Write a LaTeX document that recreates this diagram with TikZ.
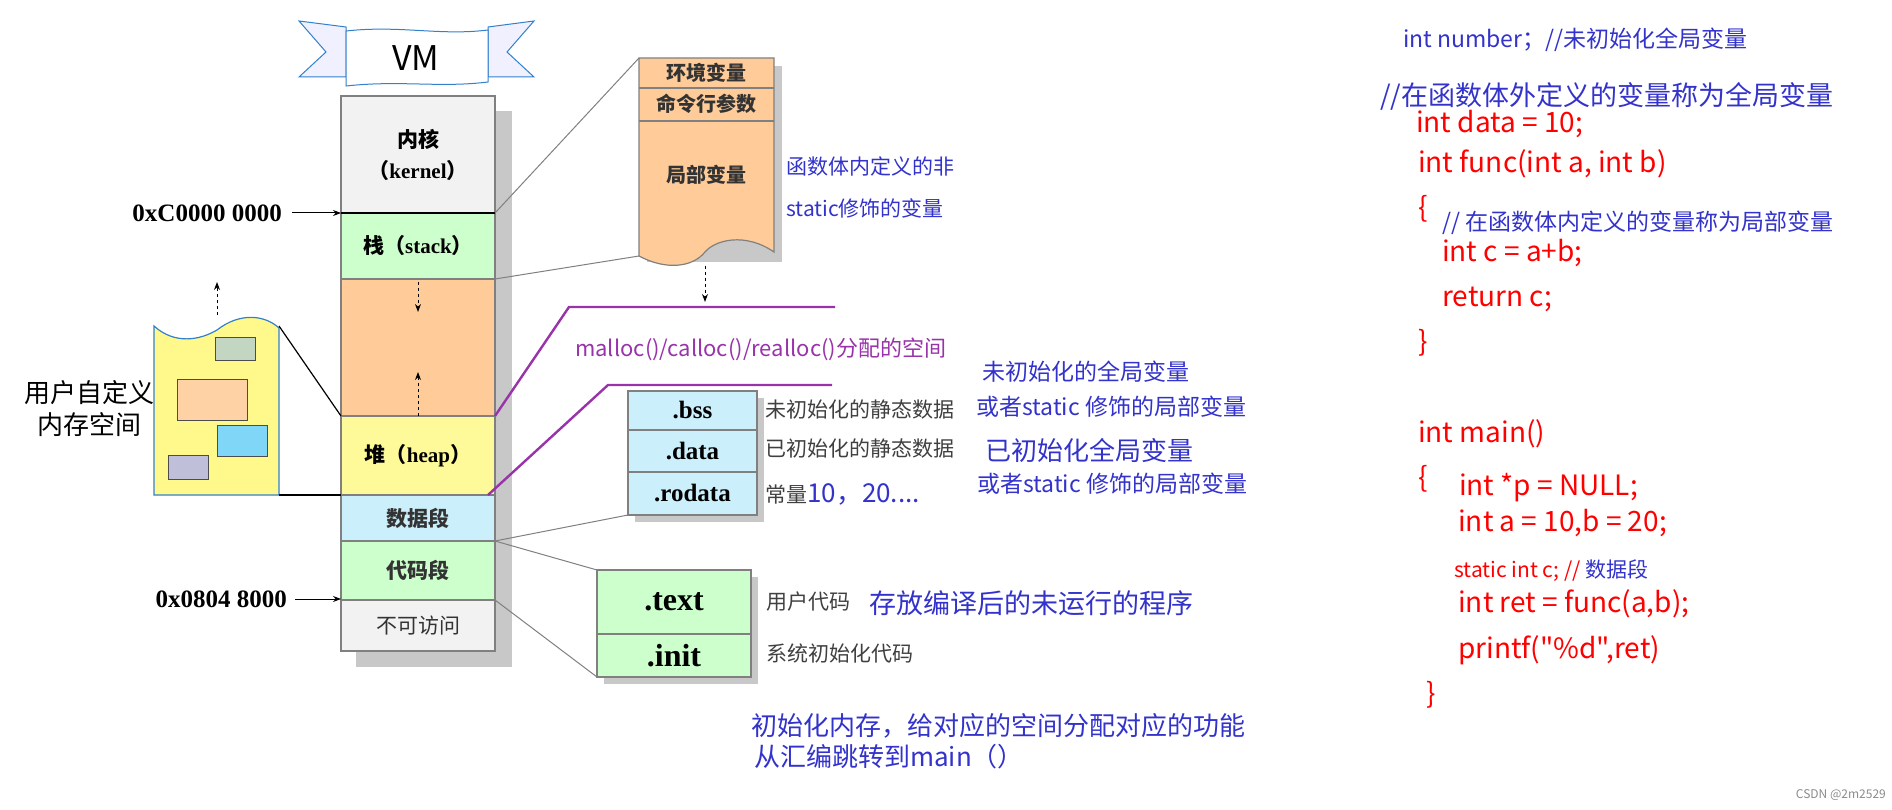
\documentclass[tikz,border=0pt]{standalone}
\usepackage{fontspec}
\setmainfont{Liberation Serif}
\newfontfamily\cjk{Noto Sans CJK SC}
\usetikzlibrary{arrows.meta}
\definecolor{tblue}{HTML}{3333CC}
\definecolor{tred}{HTML}{FF0000}
\definecolor{tpurple}{HTML}{9933AA}
\definecolor{bord}{HTML}{808080}
\definecolor{shad}{HTML}{C8C8C8}
\tikzset{
 seg/.style={draw=bord,line width=1.2pt},
 lbl/.style={inner sep=0,anchor=west},
 cen/.style={inner sep=0},
 conn/.style={draw=bord,line width=1pt},
 dash arrow/.style={dashed,line width=1pt,-{Stealth[length=8pt]}},
 pline/.style={draw=tpurple,line width=2.4pt},
}
\newcommand{\fz}[1]{\fontsize{#1}{#1}\selectfont}
\begin{document}
\begin{tikzpicture}[x=1pt,y=-1pt]
\useasboundingbox (0,0) rectangle (1892,810);
\fill[white] (0,0) rectangle (1892,810);
% banner
\path[draw=blue!50!cyan!60!gray,fill=blue!6,line width=1pt] (299,21) -- (346,27) -- (346,77) -- (299,77) -- (326,52) -- cycle;
\path[draw=blue!50!cyan!60!gray,fill=blue!6,line width=1pt] (534,21) -- (488,27) -- (488,77) -- (534,77) -- (507,52) -- cycle;
\path[draw=blue!50!cyan!60!gray,fill=white,line width=1pt] (346,31) .. controls (400,25) and (440,36) .. (488,30) -- (488,82) .. controls (440,88) and (400,80) .. (346,86) -- cycle;
\node[cen,font=\cjk\fz{34}] (vm) at (416,58) {VM};
% column shadow
\fill[shad] (356,111) rectangle (512,667);
\path[seg,fill=black!5] (341,96) rectangle (495,213) node[midway,cen,align=center,font=\bfseries\fz{21}] (kern) {{\cjk 内核}\\[10pt]{\cjk（}kernel{\cjk ）}};
\path[seg,fill=green!20] (341,213) rectangle (495,279) node[midway,cen,font=\bfseries\fz{21}] (stk) {{\cjk 栈（}stack{\cjk ）}};
\path[seg,fill=orange!40] (341,279) rectangle (495,416) coordinate[pos=.5] (mid);
\path[seg,fill=yellow!40] (341,416) rectangle (495,495) node[midway,cen,font=\bfseries\fz{21}] (heap) {{\cjk 堆（}heap{\cjk ）}};
\path[seg,fill=cyan!20] (341,495) rectangle (495,541) node[midway,cen,font=\cjk\bfseries\fz{21},text=black!80] (ds) {数据段};
\path[seg,fill=green!20] (341,541) rectangle (495,600) node[midway,cen,font=\cjk\bfseries\fz{21},text=black!80] (cs) {代码段};
\path[seg,fill=black!5] (341,600) rectangle (495,651) node[midway,cen,font=\cjk\fz{21},text=black!80] (na) {不可访问};
\draw[line width=1.6pt] (341,213) -- (495,213);
\coordinate (d1s) at (418,282); \coordinate (d1e) at (418,312);
\coordinate (d2s) at (418,416); \coordinate (d2e) at (418,372);
\draw[dash arrow] (d1s) -- (d1e);
\draw[dash arrow] (d2s) -- (d2e);
% addresses
\node[lbl,anchor=east,font=\bfseries\fz{25}] (a1) at (282,213) {0xC0000 0000};
\node[lbl,anchor=east,font=\bfseries\fz{25}] (a2) at (287,599) {0x0804 8000};
\coordinate (a1e) at (341,213); \coordinate (a2e) at (341,599);
\draw[line width=1pt,-{Stealth[length=8pt]}] (a1.east)++(10,0) -- (a1e);
\draw[line width=1pt,-{Stealth[length=8pt]}] (a2.east)++(8,0) -- (a2e);
% user block
\path[draw=blue!50!cyan!60!gray,fill=yellow!45,line width=1.2pt] (154,495) -- (154,326) .. controls (175,345) and (200,340) .. (217,330) .. controls (240,312) and (265,315) .. (279,328) -- (279,495) -- cycle;
\draw[fill=green!20!gray!40,draw=black!70] (215,337) rectangle (255,360);
\draw[fill=orange!35,draw=black!70] (177,379) rectangle (247,420);
\draw[fill=cyan!50,draw=black!70] (217,425) rectangle (267,456);
\draw[fill=blue!25!gray!40,draw=black!70] (168,455) rectangle (208,479);
\coordinate (u1) at (217,315); \coordinate (u2) at (217,282);
\draw[dash arrow] (u1) -- (u2);
\coordinate (ub1) at (279,326); \coordinate (cb1) at (341,416);
\coordinate (ub2) at (279,495); \coordinate (cb2) at (341,495);
\draw[line width=1.2pt] (ub1) -- (cb1);
\draw[line width=1.2pt] (ub2) -- (cb2);
\node[cen,font=\cjk\fz{26},align=center] (ul) at (89,409) {用户自定义\\[6pt]内存空间};
% env box
\fill[shad] (647,66) -- (782,66) -- (782,262) -- (647,262) -- cycle;
\path[seg,fill=orange!40] (639,58) -- (774,58) -- (774,252) .. controls (745,232) and (715,240) .. (705,252) .. controls (692,268) and (665,270) .. (639,256) -- cycle;
\draw[seg] (639,88) -- (774,88);
\draw[seg] (639,121) -- (774,121);
\node[cen,font=\cjk\bfseries\fz{20},text=black!80] (env) at (706,73) {环境变量};
\node[cen,font=\cjk\bfseries\fz{20},text=black!80] (cmd) at (706,104) {命令行参数};
\node[cen,font=\cjk\bfseries\fz{20},text=black!80] (loc) at (706,175) {局部变量};
\coordinate (e1) at (705,266); \coordinate (e2) at (705,302);
\draw[dash arrow] (e1) -- (e2);
\coordinate (c1) at (495,213); \coordinate (et) at (639,58);
\coordinate (c2) at (495,279); \coordinate (eb) at (639,256);
\draw[conn] (c1) -- (et);
\draw[conn] (c2) -- (eb);
% purple
\coordinate (p1) at (495,416); \coordinate (p2) at (569,307); \coordinate (p3) at (835,307);
\coordinate (q1) at (488,495); \coordinate (q2) at (608,385); \coordinate (q3) at (832,385);
\draw[pline] (p1) -- (p2) -- (p3);
\draw[pline] (q1) -- (q2) -- (q3);
\node[lbl,font=\cjk\fz{22},text=tpurple] (mal) at (575,349) {malloc()/calloc()/realloc()分配的空间};
% bss box
\fill[shad] (635,398) rectangle (764,522);
\path[seg,fill=cyan!20] (628,391) rectangle (757,430) node[midway,cen,font=\bfseries\fz{25}] (bss) {.bss};
\path[seg,fill=cyan!20] (628,430) rectangle (757,472) node[midway,cen,font=\bfseries\fz{25}] (data) {.data};
\path[seg,fill=cyan!20] (628,472) rectangle (757,515) node[midway,cen,font=\bfseries\fz{25}] (rod) {.rodata};
\coordinate (dsr) at (495,541); \coordinate (bb) at (628,515);
\draw[conn] (dsr) -- (bb);
% text box
\fill[shad] (604,577) rectangle (758,684);
\path[seg,fill=green!20] (597,570) rectangle (751,634) node[midway,cen,font=\bfseries\fz{32}] (txt) {.text};
\path[seg,fill=green!20] (597,634) rectangle (751,677) node[midway,cen,font=\bfseries\fz{32}] (init) {.init};
\coordinate (tt) at (597,570); \coordinate (tb) at (597,677); \coordinate (csr) at (495,600);
\draw[conn] (dsr) -- (tt);
\draw[conn] (csr) -- (tb);
% gray labels
\node[lbl,font=\cjk\fz{21},text=black!75] (l1) at (765,410) {未初始化的静态数据};
\node[lbl,font=\cjk\fz{21},text=black!75] (l2) at (765,449) {已初始化的静态数据};
\node[lbl,font=\cjk\fz{21},text=black!75] (l3) at (765,494) {常量\textcolor{tblue}{\fz{26}10，20....}};
\node[lbl,font=\cjk\fz{21},text=black!75] (l4) at (766,602) {用户代码};
\node[lbl,font=\cjk\fz{21},text=black!75] (l5) at (766,653) {系统初始化代码};
% blue labels
\node[lbl,font=\cjk\fz{21},text=tblue] (b1) at (786,166) {函数体内定义的非};
\node[lbl,font=\cjk\fz{21},text=tblue] (b2) at (786,208) {static修饰的变量};
\node[lbl,font=\cjk\fz{23},text=tblue] (b3) at (982,372) {未初始化的全局变量};
\node[lbl,font=\cjk\fz{23},text=tblue] (b4) at (976,407) {或者static 修饰的局部变量};
\node[lbl,font=\cjk\fz{26},text=tblue] (b5) at (985,451) {已初始化全局变量};
\node[lbl,font=\cjk\fz{23},text=tblue] (b6) at (977,484) {或者static 修饰的局部变量};
\node[lbl,font=\cjk\fz{27},text=tblue] (b7) at (869,603) {存放编译后的未运行的程序};
\node[lbl,font=\cjk\fz{26},text=tblue] (b8) at (751,726) {初始化内存，给对应的空间分配对应的功能};
\node[lbl,font=\cjk\fz{26},text=tblue] (b9) at (754,757) {从汇编跳转到main（）};
% code
\node[lbl,font=\cjk\fz{23},text=tblue] (k1) at (1403,40) {int number；//未初始化全局变量};
\node[lbl,font=\cjk\fz{27},text=tblue] (k2) at (1380,96) {//在函数体外定义的变量称为全局变量};
\node[lbl,font=\cjk\fz{28},text=tred] (k3) at (1416,124) {int data = 10;};
\node[lbl,font=\cjk\fz{28},text=tred] (k4) at (1418,164) {int func(int a, int b)};
\node[lbl,font=\cjk\fz{28},text=tred] (k5) at (1418,209) {\{};
\node[lbl,font=\cjk\fz{23},text=tblue] (k6) at (1442,223) {// 在函数体内定义的变量称为局部变量};
\node[lbl,font=\cjk\fz{28},text=tred] (k7) at (1442,253) {int c = a+b;};
\node[lbl,font=\cjk\fz{28},text=tred] (k8) at (1442,299) {return c;};
\node[lbl,font=\cjk\fz{28},text=tred] (k9) at (1418,343) {\}};
\node[lbl,font=\cjk\fz{28},text=tred] (k10) at (1418,434) {int main()};
\node[lbl,font=\cjk\fz{28},text=tred] (k11) at (1418,479) {\{};
\node[lbl,font=\cjk\fz{28},text=tred] (k12) at (1459,488) {int *p = NULL;};
\node[lbl,font=\cjk\fz{28},text=tred] (k13) at (1458,523) {int a = 10,b = 20;};
\node[lbl,font=\cjk\fz{21},text=tred] (k14) at (1454,571) {static int c; // \textcolor{tblue}{数据段}};
\node[lbl,font=\cjk\fz{28},text=tred] (k15) at (1458,604) {int ret = func(a,b);};
\node[lbl,font=\cjk\fz{28},text=tred] (k16) at (1458,650) {printf("\%d",ret)};
\node[lbl,font=\cjk\fz{28},text=tred] (k17) at (1426,695) {\}};
\node[lbl,anchor=east,font=\cjk\fz{12},text=black!45] (cs) at (1886,795) {CSDN @2m2529};
\end{tikzpicture}
\end{document}
